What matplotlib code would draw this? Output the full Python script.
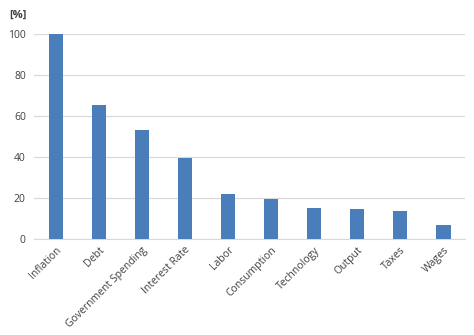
import matplotlib
matplotlib.use("Agg")
import matplotlib.pyplot as plt

categories = ["Inflation", "Debt", "Government Spending", "Interest Rate", "Labor",
              "Consumption", "Technology", "Output", "Taxes", "Wages"]
values = [100, 65.5, 53.4, 39.5, 22, 19.4, 14.9, 14.5, 13.6, 6.8]
yticks = [0, 20, 40, 60, 80, 100]

plt.rcParams['font.family'] = ['Open Sans', 'DejaVu Sans']

fig = plt.figure(figsize=(4.74, 3.35), dpi=100)
ax = fig.add_axes([0.072, 0.2866, 0.909, 0.612])

x = range(len(categories))
ax.bar(x, values, width=0.33, color="#4a7ebb", zorder=3)
ax.set_xlim(-0.5, len(categories) - 0.5)
ax.set_ylim(0, 100)
ax.set_yticks(yticks)
ax.yaxis.grid(True, color="#d9d9d9", linewidth=0.9, zorder=0)
ax.set_xticks(list(x))
ax.set_xticklabels(categories, rotation=45, ha="right", rotation_mode="anchor",
                   fontsize=7.5, color="#404040")
for lbl in ax.get_yticklabels():
    lbl.set_fontsize(7.5)
    lbl.set_color("#404040")
for s in ["top", "right", "left"]:
    ax.spines[s].set_visible(False)
ax.spines["bottom"].set_color("#d9d9d9")
ax.tick_params(axis="both", length=0, pad=6)
ax.tick_params(axis="x", pad=4)
fig.text(0.02, 0.955, "[%]", fontsize=8, fontweight="bold", color="#404040", va="center")

fig.savefig("out.png", dpi=100)
